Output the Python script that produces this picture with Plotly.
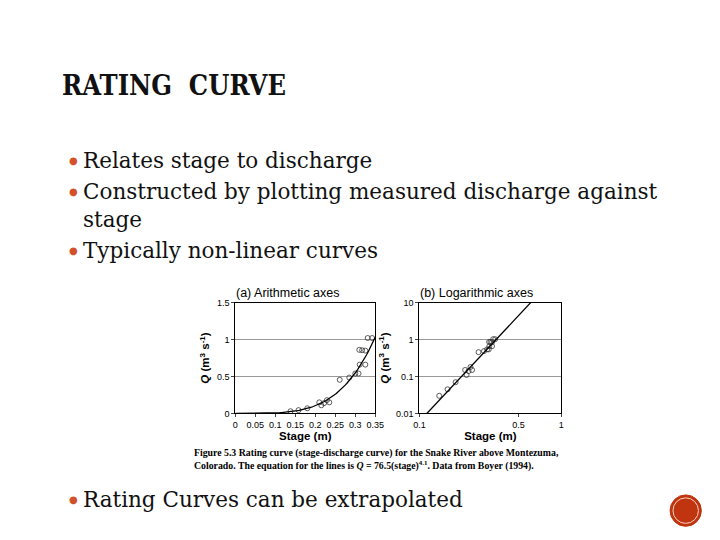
import numpy as np
import plotly.graph_objects as go

# measured points
stage = [0.138, 0.158, 0.180, 0.210, 0.215, 0.222, 0.229, 0.235, 0.261, 0.285,
         0.300, 0.308, 0.311, 0.310, 0.317, 0.325, 0.325, 0.331, 0.342]
discharge = [0.03, 0.045, 0.07, 0.15, 0.11, 0.14, 0.18, 0.15, 0.455, 0.485,
             0.54, 0.54, 0.66, 0.86, 0.855, 0.85, 0.66, 1.02, 1.02]

# fitted line from caption: Q = 76.5 * stage^4.1
COEF = 76.5
EXPO = 4.1
lin_stage = np.linspace(0.0, 0.35, 80)
log_stage = np.geomspace(0.1, 1.0, 80)

bullets = ["Relates stage to discharge",
           "Constructed by plotting measured discharge against",
           "Typically non-linear curves",
           "Rating Curves can be extrapolated"]
bullet_y = [150, 182, 242, 496]

W, H = 720, 540
ORANGE = "#d2512a"


def py(v):
    return 1 - v / H


def px(v):
    return v / W


fig = go.Figure()
marker = dict(symbol="circle-open", size=5, color="#333", line=dict(width=0.8))
line = dict(color="black", width=1.3)

fig.add_trace(go.Scatter(x=stage, y=discharge, mode="markers", marker=marker,
                         xaxis="x", yaxis="y"))
fig.add_trace(go.Scatter(x=lin_stage, y=COEF * lin_stage ** EXPO, mode="lines",
                         line=line, xaxis="x", yaxis="y"))
fig.add_trace(go.Scatter(x=stage, y=discharge, mode="markers", marker=marker,
                         xaxis="x2", yaxis="y2"))
fig.add_trace(go.Scatter(x=log_stage, y=COEF * log_stage ** EXPO, mode="lines",
                         line=line, xaxis="x2", yaxis="y2"))

tickf = dict(family="Liberation Sans", size=9, color="black")
titlef = dict(family="Liberation Sans", size=11.5, color="black")
ytitle = "<b><i>Q</i> (m<sup>3</sup> s<sup>-1</sup>)</b>"
common = dict(showline=True, linecolor="black", linewidth=1, mirror=True,
              ticks="outside", ticklen=3, tickfont=tickf, zeroline=False)
ydom = [py(408), py(295)]

fig.update_layout(
    width=W, height=H, showlegend=False,
    margin=dict(l=0, r=0, t=0, b=0),
    paper_bgcolor="white", plot_bgcolor="white",
    xaxis=dict(domain=[px(226), px(369)], range=[0, 0.35], dtick=0.05,
               showgrid=False, anchor="y",
               title=dict(text="<b>Stage (m)</b>", font=titlef, standoff=2), **common),
    yaxis=dict(domain=ydom, range=[0, 1.5], tickvals=[0, 0.5, 1, 1.5],
               showgrid=True, gridcolor="#999", gridwidth=0.6, anchor="x",
               title=dict(text=ytitle, font=titlef, standoff=4), **common),
    xaxis2=dict(domain=[px(414), px(559)], type="log", range=[-1, 0],
                tickvals=[0.1, 0.5, 1], ticktext=["0.1", "0.5", "1"],
                showgrid=False, anchor="y2",
                title=dict(text="<b>Stage (m)</b>", font=titlef, standoff=2), **common),
    yaxis2=dict(domain=ydom, type="log", range=[-2, 1],
                tickvals=[0.01, 0.1, 1, 10], ticktext=["0.01", "0.1", "1", "10"],
                showgrid=True, gridcolor="#999", gridwidth=0.6, anchor="x2",
                title=dict(text=ytitle, font=titlef, standoff=4), **common),
)

ann = []
ann.append(dict(x=px(47), y=py(74), text="<b>RATING  CURVE</b>",
                font=dict(family="DejaVu Serif Condensed", size=27, color="#111")))
for t, yy in zip(bullets, bullet_y):
    ann.append(dict(x=px(54), y=py(yy), text="●",
                    font=dict(family="DejaVu Sans", size=10, color=ORANGE)))
    ann.append(dict(x=px(68), y=py(yy), text=t,
                    font=dict(family="DejaVu Serif", size=21.5, color="#111")))
ann.append(dict(x=px(68), y=py(210), text="stage",
                font=dict(family="DejaVu Serif", size=21.5, color="#111")))
ann.append(dict(x=px(225), y=py(285), text="(a) Arithmetic axes",
                font=dict(family="Liberation Sans", size=12.5, color="black")))
ann.append(dict(x=px(413), y=py(285), text="(b) Logarithmic axes",
                font=dict(family="Liberation Sans", size=12.5, color="black")))
cap = ("<b>Figure 5.3 Rating curve (stage-discharge curve) for the Snake River above Montezuma,<br>"
       "Colorado. The equation for the lines is <i>Q</i> = 76.5(stage)<sup>4.1</sup>. "
       "Data from Boyer (1994).</b>")
ann.append(dict(x=px(182), y=py(455), text=cap, align="left",
                font=dict(family="Liberation Serif", size=9.8, color="black")))
for a in ann:
    a.update(xref="paper", yref="paper", xanchor="left", yanchor="middle",
             showarrow=False)
fig.update_layout(annotations=ann)

# slide badge bottom right
fig.add_shape(type="circle", xref="paper", yref="paper",
              x0=px(670), x1=px(702), y0=py(523), y1=py(491),
              fillcolor="#c0340f", line=dict(color="#c0340f", width=1))
fig.add_shape(type="circle", xref="paper", yref="paper",
              x0=px(673), x1=px(699), y0=py(520), y1=py(494),
              line=dict(color="#f6d5c0", width=1))

fig.write_html("out.html")
